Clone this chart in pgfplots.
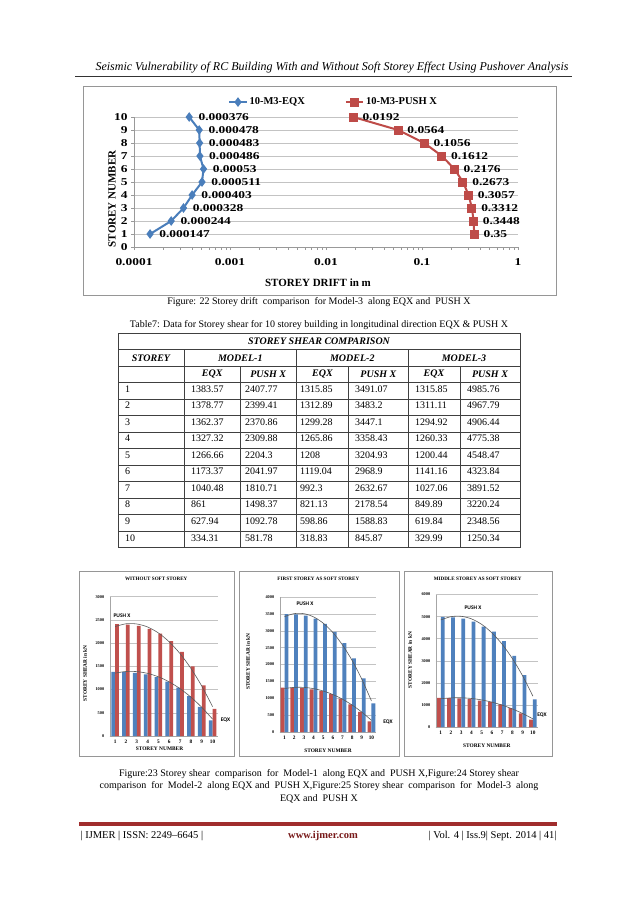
\documentclass[border=0pt]{standalone}
\usepackage{pgfplots}
\pgfplotsset{compat=1.18}
\usepackage{fontspec}
\setmainfont{Liberation Serif}
\newfontfamily\calibri{Carlito}
\newfontfamily\widenum[FakeStretch=1.28]{Liberation Serif}

\definecolor{eqxblue}{RGB}{74,126,187}
\definecolor{pushred}{RGB}{190,75,72}
\definecolor{barblue}{RGB}{79,129,189}
\definecolor{barred}{RGB}{192,80,77}
\definecolor{gridgray}{RGB}{195,195,195}
\definecolor{boxgray}{RGB}{150,150,150}
\definecolor{trendgray}{RGB}{90,90,90}
\definecolor{footred}{RGB}{160,45,45}
\definecolor{webred}{RGB}{120,25,25}

\newcommand{\fs}[1]{\fontsize{#1}{#1}\selectfont}

\pgfplotsset{
  shearchart/.style={
    scale only axis, clip=false,
    xmin=0.5, xmax=10.5, ymin=0,
    xtick={1,...,10},
    axis x line*=bottom, axis y line*=left,
    axis line style={gray!70},
    ymajorgrids, grid style={gridgray, line width=0.5pt},
    major tick length=0pt,
    /pgf/number format/assume math mode=true,
    /pgf/number format/1000 sep={},
    yticklabel style={font=\bfseries\fs{4.3}, xshift=-2pt},
    xticklabel style={font=\bfseries\fs{5.3}},
    xlabel={STOREY NUMBER}, ylabel={STOREY SHEAR in kN},
    label style={font=\bfseries\fs{5.4}},
    title style={font=\bfseries\fs{5.1}, anchor=center, yshift=-6pt},
  },
  shearbar/.style={ybar, bar width=3.8pt, fill=#1, draw=none},
  trend/.style={smooth, trendgray, line width=0.6pt, mark=none},
}

\begin{document}
\begin{tikzpicture}
\useasboundingbox[fill=white] (0pt,0pt) rectangle (638pt,-903pt);

% page header
\node[font=\itshape\fs{12}] at (332pt,-68pt) {Seismic Vulnerability of RC Building With and Without Soft Storey Effect Using Pushover Analysis};
\draw[black!80, line width=0.6pt] (75pt,-76.5pt) -- (572pt,-76.5pt);

% figure 22 frame
\draw[boxgray, line width=0.6pt] (83pt,-86pt) rectangle (556pt,-295pt);

\begin{axis}[
  at={(134pt,-247pt)}, anchor=south west,
  scale only axis, width=384pt, height=130pt, clip=false,
  xmode=log, xmin=1e-4, xmax=1, ymin=0, ymax=10,
  xtick={1e-4,1e-3,1e-2,1e-1,1}, xticklabels={0.0001,0.001,0.01,0.1,1},
  minor xtick={}, ytick={0,...,10},
  axis x line*=bottom, axis y line*=left,
  axis line style={gray!80},
  ymajorgrids, grid style={gridgray, line width=0.6pt},
  tick align=outside, major tick length=3pt, tick style={gray!80},
  /pgf/number format/assume math mode=true,
  tick label style={font=\widenum\bfseries\fs{10.5}},
  xticklabel style={yshift=-5pt},
  xlabel={STOREY DRIFT in m}, ylabel={STOREY NUMBER},
  label style={font=\bfseries\fs{11}},
  xlabel style={at={(axis description cs:0.479,-0.277)}, anchor=center},
  ylabel style={at={(axis description cs:-0.057,0.37)}, anchor=center},
  legend style={at={(0.52,1.115)}, anchor=center, draw=none, fill=none,
    legend columns=2, font=\bfseries\fs{10.5},
    /tikz/every even column/.append style={column sep=38pt}},
  nodes near coords, point meta=explicit symbolic,
  nodes near coords style={anchor=west, xshift=5pt, font=\widenum\bfseries\fs{10.5}, text=black},
]
\addplot[eqxblue, line width=2pt, mark=diamond*, mark size=3.2pt] coordinates {
  (0.000147,1) [0.000147] (0.000244,2) [0.000244] (0.000328,3) [0.000328]
  (0.000403,4) [0.000403] (0.000511,5) [0.000511] (0.00053,6) [0.00053]
  (0.000486,7) [0.000486] (0.000483,8) [0.000483] (0.000478,9) [0.000478]
  (0.000376,10) [0.000376]};
\addlegendentry{10-M3-EQX}
\addplot[pushred, line width=2pt, mark=square*, mark size=3.5pt] coordinates {
  (0.35,1) [0.35] (0.3448,2) [0.3448] (0.3312,3) [0.3312] (0.3057,4) [0.3057]
  (0.2673,5) [0.2673] (0.2176,6) [0.2176] (0.1612,7) [0.1612] (0.1056,8) [0.1056]
  (0.0564,9) [0.0564] (0.0192,10) [0.0192]};
\addlegendentry{10-M3-PUSH X}
\end{axis}

\node[font=\fs{10}] at (319pt,-302.5pt) {Figure: 22 Storey drift\ \ comparison\ \ for Model-3\ \ along EQX and\ \ PUSH X};
\node[font=\fs{10}] at (319pt,-325pt) {Table7: Data for Storey shear for 10 storey building in longitudinal direction EQX \& PUSH X};

% table 7
\def\h{16.52}
\begin{scope}[line width=0.7pt, draw=black!75]
\draw (118pt,-333pt) rectangle (520pt,-547.8pt);
\foreach \k in {1,...,12} {
  \pgfmathsetmacro\yy{-(333+\k*\h)}
  \draw (118pt,\yy pt) -- (520pt,\yy pt);
}
\foreach \x in {184.3,296.3,408} \draw (\x pt,-349.5pt) -- (\x pt,-547.8pt);
\foreach \x in {240,348.7,460} \draw (\x pt,-366pt) -- (\x pt,-547.8pt);
\end{scope}
\begin{scope}[every node/.style={font=\bfseries\itshape\fs{10}, inner sep=0pt}]
\node at (319pt,-341.3pt) {STOREY SHEAR COMPARISON};
\node at (151pt,-357.8pt) {STOREY};
\node at (240.3pt,-357.8pt) {MODEL-1};
\node at (352.3pt,-357.8pt) {MODEL-2};
\node at (464pt,-357.8pt) {MODEL-3};
\foreach \x/\t in {212.2/EQX,268.2/PUSH X,322.5/EQX,378.4/PUSH X,434/EQX,490/PUSH X}
  \node at (\x pt,-374.3pt) {\t};
\end{scope}
\begin{scope}[every node/.style={font=\fs{10}, inner sep=0pt, anchor=west, text height=7pt, text depth=2pt}]
\foreach \s/\a/\b/\c/\d/\e/\f [count=\i] in {
  1/1383.57/2407.77/1315.85/3491.07/1315.85/4985.76,
  2/1378.77/2399.41/1312.89/3483.2/1311.11/4967.79,
  3/1362.37/2370.86/1299.28/3447.1/1294.92/4906.44,
  4/1327.32/2309.88/1265.86/3358.43/1260.33/4775.38,
  5/1266.66/2204.3/1208/3204.93/1200.44/4548.47,
  6/1173.37/2041.97/1119.04/2968.9/1141.16/4323.84,
  7/1040.48/1810.71/992.3/2632.67/1027.06/3891.52,
  8/861/1498.37/821.13/2178.54/849.89/3220.24,
  9/627.94/1092.78/598.86/1588.83/619.84/2348.56,
  10/334.31/581.78/318.83/845.87/329.99/1250.34} {
  \pgfmathsetmacro\yy{-(333+(\i+2.5)*\h)+1}
  \node at (125pt,\yy pt) {\s};
  \node at (191pt,\yy pt) {\a};
  \node at (245pt,\yy pt) {\b};
  \node at (300pt,\yy pt) {\c};
  \node at (355pt,\yy pt) {\d};
  \node at (415pt,\yy pt) {\e};
  \node at (467pt,\yy pt) {\f};
}
\end{scope}

% figure 23-25 frames
\draw[boxgray, line width=0.6pt] (79pt,-571pt) rectangle (234.7pt,-756pt);
\draw[boxgray, line width=0.6pt] (239pt,-571pt) rectangle (399pt,-756pt);
\draw[boxgray, line width=0.6pt] (404pt,-571pt) rectangle (552pt,-756pt);

% Model-1
\begin{axis}[shearchart, at={(109.7pt,-736pt)}, anchor=south west,
  width=108.3pt, height=139.3pt, ymax=3000, ytick={0,500,...,3000},
  title={WITHOUT SOFT STOREY}, title style={at={(axis description cs:0.43,1.127)}},
  xlabel style={at={(axis description cs:0.46,-0.09)}, anchor=center},
  ylabel style={at={(axis description cs:-0.228,0.45)}, anchor=center}]
\addplot[shearbar=barblue, bar shift=-1.9pt] coordinates {
  (1,1383.57) (2,1378.77) (3,1362.37) (4,1327.32) (5,1266.66)
  (6,1173.37) (7,1040.48) (8,861) (9,627.94) (10,334.31)};
\addplot[shearbar=barred, bar shift=1.9pt] coordinates {
  (1,2407.77) (2,2399.41) (3,2370.86) (4,2309.88) (5,2204.3)
  (6,2041.97) (7,1810.71) (8,1498.37) (9,1092.78) (10,581.78)};
\addplot[trend] coordinates {
  (1,2357) (2,2417) (3,2413) (4,2348) (5,2219)
  (6,2027) (7,1773) (8,1456) (9,1076) (10,633)};
\addplot[trend] coordinates {
  (1,1354) (2,1389) (3,1387) (4,1349) (5,1275)
  (6,1165) (7,1019) (8,837) (9,618) (10,364)};
\end{axis}

% Model-2
\begin{axis}[shearchart, at={(279.7pt,-732pt)}, anchor=south west,
  width=96.6pt, height=135pt, ymax=4000, ytick={0,500,...,4000},
  title={FIRST STOREY AS SOFT STOREY}, title style={at={(axis description cs:0.40,1.133)}},
  xlabel style={at={(axis description cs:0.5,-0.14)}, anchor=center},
  ylabel style={at={(axis description cs:-0.328,0.52)}, anchor=center}]
\addplot[shearbar=barred, bar shift=-1.9pt] coordinates {
  (1,1315.85) (2,1312.89) (3,1299.28) (4,1265.86) (5,1208)
  (6,1119.04) (7,992.3) (8,821.13) (9,598.86) (10,318.83)};
\addplot[shearbar=barblue, bar shift=1.9pt] coordinates {
  (1,3491.07) (2,3483.2) (3,3447.1) (4,3358.43) (5,3204.93)
  (6,2968.9) (7,2632.67) (8,2178.54) (9,1588.83) (10,845.87)};
\addplot[trend] coordinates {
  (1,3418) (2,3508) (3,3506) (4,3412) (5,3226)
  (6,2949) (7,2579) (8,2118) (9,1564) (10,919)};
\addplot[trend] coordinates {
  (1,1289) (2,1322) (3,1322) (4,1286) (5,1216)
  (6,1111) (7,972) (8,798) (9,590) (10,346)};
\end{axis}

% Model-3
\begin{axis}[shearchart, at={(435.7pt,-727pt)}, anchor=south west,
  width=102.3pt, height=132.5pt, ymax=6000, ytick={0,1000,...,6000},
  title={MIDDLE STOREY AS SOFT STOREY}, title style={at={(axis description cs:0.41,1.117)}},
  xlabel style={at={(axis description cs:0.5,-0.143)}, anchor=center},
  ylabel style={at={(axis description cs:-0.25,0.505)}, anchor=center}]
\addplot[shearbar=barred, bar shift=-1.9pt] coordinates {
  (1,1315.85) (2,1311.11) (3,1294.92) (4,1260.33) (5,1200.44)
  (6,1141.16) (7,1027.06) (8,849.89) (9,619.84) (10,329.99)};
\addplot[shearbar=barblue, bar shift=1.9pt] coordinates {
  (1,4985.76) (2,4967.79) (3,4906.44) (4,4775.38) (5,4548.47)
  (6,4323.84) (7,3891.52) (8,3220.24) (9,2348.56) (10,1250.34)};
\addplot[trend] coordinates {
  (1,4849) (2,4998) (3,5013) (4,4896) (5,4646)
  (6,4262) (7,3746) (8,3096) (9,2314) (10,1398)};
\addplot[trend] coordinates {
  (1,1280) (2,1319) (3,1323) (4,1292) (5,1226)
  (6,1125) (7,989) (8,817) (9,611) (10,369)};
\end{axis}

% series tags in the small charts
\begin{scope}[every node/.style={font=\calibri\bfseries\fs{5.5}}]
\node at (122pt,-616pt) {PUSH X};
\node at (225.5pt,-720pt) {EQX};
\node at (305pt,-604pt) {PUSH X};
\node at (388pt,-721.7pt) {EQX};
\node at (473pt,-608pt) {PUSH X};
\node at (542pt,-715pt) {EQX};
\end{scope}

% captions
\node[font=\fs{10}] at (319pt,-774pt) {Figure:23 Storey shear\ \ comparison\ \ for\ \ Model-1\ \ along EQX and\ \ PUSH X,Figure:24 Storey shear};
\node[font=\fs{10}] at (319pt,-786.5pt) {comparison\ \ for\ \ Model-2\ \ along EQX and\ \ PUSH X,Figure:25 Storey shear\ \ comparison\ \ for\ \ Model-3\ \ along};
\node[font=\fs{10}] at (319pt,-798.5pt) {EQX and\ \ PUSH X};

% footer
\fill[footred] (79pt,-821.7pt) rectangle (557pt,-826.3pt);
\node[font=\fs{10.5}, anchor=west] at (77pt,-836pt) {| IJMER | ISSN: 2249–6645 |};
\node[font=\bfseries\fs{10.5}, text=webred] at (323pt,-836pt) {www.ijmer.com};
\node[font=\fs{10.5}, anchor=east] at (560pt,-836pt) {| Vol. 4 | Iss.9| Sept. 2014 | 41|};
\end{tikzpicture}
\end{document}
